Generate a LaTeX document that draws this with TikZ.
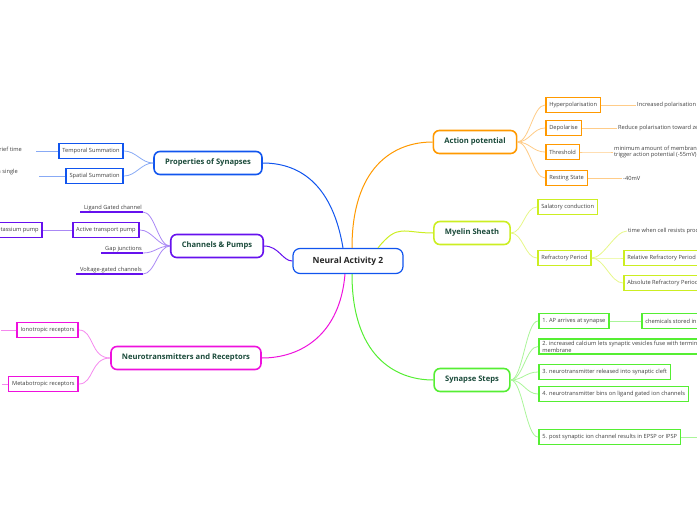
\documentclass[tikz,border=0pt]{standalone}
\usepackage{fontspec}
\setmainfont{Open Sans}
\definecolor{cO}{HTML}{FF9900}\definecolor{lO}{HTML}{FFCC88}
\definecolor{cY}{HTML}{CCEE22}\definecolor{lY}{HTML}{E6F788}
\definecolor{cG}{HTML}{55EE33}\definecolor{lG}{HTML}{AAF599}
\definecolor{cB}{HTML}{1155EE}\definecolor{lB}{HTML}{88AAF5}
\definecolor{cP}{HTML}{6611EE}\definecolor{lP}{HTML}{AA88F5}
\definecolor{cM}{HTML}{EE11DD}\definecolor{lM}{HTML}{F588EE}
\definecolor{tx}{HTML}{1A4A3A}
\tikzset{
 mainn/.style={draw=#1,rounded corners=6pt,line width=1.6pt,minimum height=23pt,inner xsep=11pt,font=\fontsize{7.6}{9}\selectfont\bfseries,text=tx,fill=white},
 kid/.style={draw=#1,line width=1.6pt,minimum height=15pt,inner xsep=3.5pt,inner ysep=2pt,font=\fontsize{5.7}{7}\selectfont,text=black!75,fill=white},
 txt/.style={inner sep=1pt,font=\fontsize{5.7}{7}\selectfont,text=black!75,align=left},
 lnk/.style={draw=#1,line width=0.8pt},
}
\newcommand{\br}[3]{\draw[lnk=#1] (#2) .. controls +(12,0) and +(-12,0) .. (#3);}
\newcommand{\bl}[3]{\draw[lnk=#1] (#2) .. controls +(-12,0) and +(12,0) .. (#3);}
\begin{document}
\begin{tikzpicture}[x=1pt,y=-1pt]
\useasboundingbox (0,0) rectangle (697,520);
\clip (0,0) rectangle (697,520);
% central
\node[draw=cB,rounded corners=7pt,line width=1.2pt,minimum height=25pt,minimum width=110pt,font=\fontsize{8.5}{10}\selectfont\bfseries,text=black!85,fill=white] (c) at (348,261) {Neural Activity 2};
\node[mainn=cO] (ap) at (475,142) {Action potential};
\node[mainn=cY] (ms) at (472,233) {Myelin Sheath};
\node[mainn=cG] (ss) at (472,380) {Synapse Steps};
\node[mainn=cB] (ps) at (208,163) {Properties of Synapses};
\node[mainn=cP] (cp) at (217,246) {Channels \& Pumps};
\node[mainn=cM] (nr) at (186,358) {Neurotransmitters and Receptors};
% central links
\draw[lnk=cO,line width=1pt] ([xshift=4pt]c.north) .. controls +(0,-80) and +(-40,0) .. (ap.west);
\draw[lnk=cY,line width=1pt] ([xshift=30pt]c.north) .. controls +(20,-25) and +(-30,0) .. (ms.west);
\draw[lnk=cG,line width=1pt] ([xshift=4pt]c.south) .. controls +(0,80) and +(-40,0) .. (ss.west);
\draw[lnk=cB,line width=1pt] ([xshift=-5pt]c.north) .. controls +(-10,-60) and +(40,0) .. (ps.east);
\draw[lnk=cP,line width=1pt] (c.west) .. controls +(-10,0) and +(15,0) .. (cp.east);
\draw[lnk=cM,line width=1pt] ([xshift=-3pt]c.south) .. controls +(-5,60) and +(40,0) .. (nr.east);
% action potential
\node[kid=cO,anchor=west] (hp) at (545,105) {Hyperpolarisation};
\node[kid=cO,anchor=west] (dp) at (545,128) {Depolarise};
\node[kid=cO,anchor=west] (th) at (545,152) {Threshold};
\node[kid=cO,anchor=west] (rs) at (545,178) {Resting State};
\node[txt,anchor=west] (hpt) at (636,105) {Increased polarisation};
\node[txt,anchor=west] (dpt) at (617,128) {Reduce polarisation toward zero};
\node[txt,anchor=west] (tht) at (613,152) {minimum amount of membrane\\[-0.5pt]trigger action potential (-55mV)};
\node[txt,anchor=west] (rst) at (622,178) {-40mV};
\foreach \k in {hp,dp,th,rs} {\br{lO}{ap.east}{\k.west}}
\draw[lnk=lO] (hp.east) -- (hpt.west);
\draw[lnk=lO] (dp.east) -- (dpt.west);
\draw[lnk=lO] (th.east) .. controls +(10,0) and +(-10,0) .. (tht.west);
\draw[lnk=lO] (rs.east) -- (rst.west);
% myelin
\node[kid=cY,anchor=west] (sc) at (537,207) {Salatory conduction};
\node[kid=cY,anchor=west] (rp) at (537,258) {Refractory Period};
\node[txt,anchor=west] (tw) at (627,231) {time when cell resists producing};
\node[kid=cY,anchor=west] (rr) at (623,258) {Relative Refractory Period};
\node[kid=cY,anchor=west] (ar) at (623,283) {Absolute Refractory Period};
\br{lY}{ms.east}{sc.west}\br{lY}{ms.east}{rp.west}
\br{lY}{rp.east}{tw.west}\br{lY}{rp.east}{rr.west}\br{lY}{rp.east}{ar.west}
% synapse steps
\node[kid=cG,anchor=west] (s1) at (538,321) {1. AP arrives at synapse};
\node[kid=cG,anchor=west] (s1c) at (641,321) {chemicals stored in vesicles};
\node[kid=cG,anchor=west,align=left] (s2) at (538,346.5) {2. increased calcium lets synaptic vesicles fuse with terminal\\membrane};
\node[kid=cG,anchor=west] (s3) at (538,372) {3. neurotransmitter released into synaptic cleft};
\node[kid=cG,anchor=west] (s4) at (538,394) {4. neurotransmitter bins on ligand gated ion channels};
\node[kid=cG,anchor=west] (s5) at (538,437) {5. post synaptic ion channel results in EPSP or IPSP};
\coordinate (s5e) at (697,437);
\foreach \k in {s1,s2,s3,s4,s5} {\br{lG}{ss.east}{\k.west}}
\draw[lnk=lG] (s1.east) -- (s1c.west);
\draw[lnk=lG] (s5.east) -- (s5e);
% properties of synapses
\node[kid=cB,anchor=east] (ts) at (124,151) {Temporal Summation};
\node[kid=cB,anchor=east] (sp) at (124,176) {Spatial Summation};
\node[txt,anchor=east] (tst) at (23,150) {several signals in a brief time};
\node[txt,anchor=east] (spt) at (19,172) {several signals from more than a single};
\foreach \k in {ts,sp} {\bl{lB}{ps.west}{\k.east}}
\draw[lnk=lB] (ts.west) -- ++(-22,0);
\draw[lnk=lB] (sp.west) -- ++(-26,0);
% channels
\node[txt,anchor=south east] (lg) at (143,212) {Ligand Gated channel};
\node[kid=cP,anchor=east] (at) at (140,230) {Active transport pump};
\node[kid=cP,anchor=east] (sk) at (43,230) {Sodium potassium pump};
\node[txt,anchor=south east] (gj) at (143,253) {Gap junctions};
\node[txt,anchor=south east] (vg) at (143,274) {Voltage-gated channels};
\foreach \k in {lg,gj,vg} {\draw[lnk=cP,line width=1.2pt] (\k.south east) -- ([xshift=-3pt]\k.south west);}
\draw[lnk=lP] (cp.west) .. controls +(-12,0) and +(12,0) .. (lg.south east);
\draw[lnk=lP] (cp.west) .. controls +(-12,0) and +(12,0) .. (at.east);
\draw[lnk=lP] (cp.west) .. controls +(-12,0) and +(12,0) .. (gj.south east);
\draw[lnk=lP] (cp.west) .. controls +(-12,0) and +(12,0) .. (vg.south east);
\draw[lnk=lP] (at.west) -- (sk.east);
% neurotransmitters
\node[kid=cM,anchor=east] (io) at (79,330) {Ionotropic receptors};
\node[kid=cM,anchor=east] (mb) at (79,384) {Metabotropic receptors};
\foreach \k in {io,mb} {\draw[lnk=lM] (nr.west) .. controls +(-20,0) and +(15,0) .. (\k.east);}
\draw[lnk=lM] (io.west) -- ++(-15,0);
\draw[lnk=lM] (mb.west) -- ++(-6,0);
\end{tikzpicture}
\end{document}
